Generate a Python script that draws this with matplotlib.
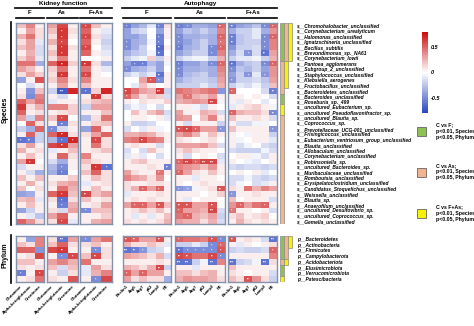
import numpy as np
import matplotlib
matplotlib.use("Agg")
import matplotlib.pyplot as plt
from matplotlib.colors import LinearSegmentedColormap, Normalize
from matplotlib.cm import ScalarMappable
from matplotlib.patches import Rectangle
from matplotlib.lines import Line2D

plt.rcParams['font.family'] = ['Liberation Sans', 'DejaVu Sans']

# ---- labels ----
kidney_cols = ["Glutamine", "Alpha-ketoglutarate", "Creatinine"]
autophagy_cols = ["Beclin1", "Atg5", "Atg7", "p62", "Lamp2", "PE"]
groups = ["F", "As", "F+As"]

species = [
    "s__Chromohalobacter_unclassified", "s__Corynebacterium_urealyticum",
    "s__Halomonas_unclassified", "s__Ignatzschineria_unclassified",
    "s__Bacillus_subtilis", "s__Brevundimonas_sp._NA61",
    "s__Corynebacterium_lowii", "s__Pantoea_agglomerans",
    "s__Subgroup_2_unclassified", "s__Staphylococcus_unclassified",
    "s__Klebsiella_aerogenes", "s__Fructobacillus_unclassified",
    "s__Bacteroidetes_unclassified", "s__Bacteroides_unclassified",
    "s__Roseburia_sp._499", "s__uncultured_Eubacterium_sp.",
    "s__uncultured_Pseudoflavonifractor_sp.", "s__uncultured_Blautia_sp.",
    "s__Coprococcus_sp.", "s__Prevotellaceae_UCG-001_unclassified",
    "s__Frisingicoccus_unclassified", "s__Eubacterium_ventriosum_group_unclassified",
    "s__Blautia_unclassified", "s__Allobaculum_unclassified",
    "s__Corynebacterium_unclassified", "s__Robinsoniella_sp.",
    "s__uncultured_Bacteroides_sp.", "s__Muribaculaceae_unclassified",
    "s__Romboutsia_unclassified", "s__Erysipelatoclostridium_unclassified",
    "s__Candidatus_Stoquefichus_unclassified", "s__Weissella_unclassified",
    "s__Blautia_sp.", "s__Anaerofilum_unclassified",
    "s__uncultured_Desulfovibrio_sp.", "s__uncultured_Coprococcus_sp.",
    "s__Gemella_unclassified",
]
phyla = ["p__Bacteroidetes", "p__Actinobacteria", "p__Firmicutes",
         "p__Campylobacterota", "p__Acidobacteriota", "p__Elusimicrobiota",
         "p__Verrucomicrobiota", "p__Patescibacteria"]

# ---- correlation values (trailing * = significance marks) ----
kid_sp_F = [
    "0.2 0.4 0.05", "0.05 0.3 0.1", "0.25 0.45 0.1", "0.1 0.3 -0.1",
    "0.2 0.3 -0.15", "0.05 0.25 -0.15", "0.15 0.3 -0.1", "0.45 0.45 -0.35",
    "0.3 0.2 0.05", "0.1 0.3 0.15", "-0.4 0.05 0.55", "0.0 -0.15 0.05",
    "0.05 -0.45 0.2", "0.1 -0.5 0.4", "0.5 0.3 0.45", "0.65 0.1 0.25",
    "0.5 0.05 0.1", "0.3 -0.2 0.4", "0.0 0.5 0.1", "-0.2 -0.35 0.5",
    "0.05 0.5 -0.2", "-0.6* -0.55** -0.2", "0.1 0.3 0.05", "0.25 0.05 0.1",
    "0.05 0.2 0.05", "0.3 0.65* 0.0", "-0.15 0.05 0.05", "0.05 -0.15 -0.35",
    "0.2 0.05 0.2", "0.05 0.25 0.05", "0.2 0.0 0.1", "-0.4 -0.35 0.05",
    "0.2 0.25 -0.1", "0.05 0.2 0.05", "-0.4 -0.2 0.05", "0.05 -0.1 -0.25",
    "0.5 0.35 0.1",
]
kid_sp_As = [
    "0.3 0.6 0.05", "0.2 0.65* 0.1", "0.1 0.65* 0.05", "0.25 0.6* 0.0",
    "0.1 0.65* 0.1", "0.2 0.65* 0.05", "0.1 0.4 0.05", "0.5 0.7** 0.15",
    "0.15 0.45 0.05", "0.1 0.65* 0.05", "0.15 0.4 0.1", "0.05 0.3 0.05",
    "-0.2 -0.7*** 0.7", "0.05 -0.15 0.0", "-0.1 0.05 0.05", "0.4 0.4 0.15",
    "0.05 0.1 0.15", "0.2 0.6* 0.0", "0.05 -0.55** 0.1", "-0.5* -0.15 0.05",
    "0.5 0.7** 0.1", "-0.3 -0.6* 0.7*", "0.6 0.65** 0.3", "-0.1 0.05 0.2",
    "0.05 0.5 0.1", "-0.15 -0.35 0.05", "-0.3 -0.5* 0.05", "-0.35 -0.55* 0.0",
    "0.05 0.05 0.15", "0.1 0.25 0.3", "0.05 0.45 0.25", "0.5 0.65* 0.2",
    "0.1 -0.6* 0.1", "0.05 -0.55* 0.25", "0.1 -0.15 0.3", "0.3 0.5 0.05",
    "0.1 0.6* -0.1",
]
kid_sp_FAs = [
    "0.6* 0.2 0.05", "0.5 0.05 -0.1", "0.6* 0.1 -0.15", "0.5 0.05 -0.2",
    "0.6* 0.0 -0.15", "0.5 0.05 -0.1", "0.0 0.0 0.05", "0.65** 0.1 -0.3",
    "0.45 0.05 -0.1", "0.6* 0.05 0.0", "0.4 0.05 0.05", "0.2 0.05 0.05",
    "-0.6* 0.15 0.7", "0.05 0.65* 0.1", "0.1 0.2 0.25", "-0.2 0.3 0.3",
    "0.05 0.05 0.2", "-0.3 0.1 0.45", "0.05 0.15 0.2", "-0.4 0.5 0.05",
    "0.1 0.3 0.5", "0.05 0.6* 0.1", "0.05 0.45 0.1", "0.05 0.1 0.2",
    "0.4 0.05 0.05", "0.2 0.1 0.05", "0.1 0.65* -0.6*", "0.2 0.5 0.1",
    "0.05 0.2 0.1", "-0.1 0.05 0.1", "0.05 0.2 0.05", "0.6** 0.2 0.3",
    "0.2 0.05 0.1", "0.05 0.1 0.3", "-0.5* 0.2 0.2", "0.05 0.05 0.15",
    "0.05 0.25 0.3",
]
aut_sp_F = [
    "-0.55* -0.4 -0.3 -0.1 -0.55* 0.1", "-0.4 -0.2 -0.15 0.0 -0.4 0.05",
    "-0.4 -0.4 -0.3 0.0 -0.55* 0.05", "-0.5* -0.35 -0.3 -0.05 -0.55* 0.0",
    "-0.5* -0.35 -0.2 0.0 -0.65** 0.05", "-0.35 -0.25 -0.2 -0.05 -0.6** 0.0",
    "-0.2 -0.1 -0.05 0.15 -0.2 0.05", "-0.4 -0.55* -0.55* -0.3 -0.4 -0.05",
    "-0.5* -0.35 -0.3 -0.2 -0.4 0.0", "-0.2 -0.1 -0.2 -0.1 -0.6** 0.05",
    "0.0 0.0 0.3 0.55* -0.5* 0.05", "0.0 -0.1 0.2 0.05 0.0 0.05",
    "0.6** 0.45 0.3 0.25 0.65*** -0.2", "0.5* 0.3 0.1 0.2 0.15 -0.15",
    "0.05 0.0 0.1 0.05 0.05 0.15", "-0.15 -0.05 -0.1 0.0 -0.15 0.0",
    "0.0 0.2 0.05 0.2 0.3 -0.15", "0.0 0.05 0.05 0.0 0.05 -0.1",
    "0.05 -0.2 -0.2 -0.15 0.0 0.0", "-0.15 0.0 -0.1 0.05 -0.05 0.0",
    "0.25 0.25 0.3 0.25 0.1 0.05", "0.4 0.45 0.6** 0.45 0.4 0.05",
    "0.05 0.1 0.05 0.05 -0.15 0.0", "-0.15 0.0 -0.15 0.2 0.05 0.0",
    "-0.1 0.05 -0.1 0.0 -0.15 0.0", "0.05 0.15 0.2 0.05 0.05 0.05",
    "0.05 0.05 0.05 0.1 0.05 -0.55**", "0.3 0.1 0.05 0.05 0.45* 0.05",
    "0.4 0.3 0.25 0.1 0.35 0.0", "0.1 0.05 0.05 0.1 0.1 0.05",
    "0.1 0.25 0.5* 0.3 0.5* 0.05", "-0.1 0.05 0.05 0.05 0.1 0.05",
    "0.05 0.1 0.05 0.1 0.05 0.05", "0.3 0.5* 0.5* 0.3 0.55** 0.2",
    "0.05 0.1 0.2 0.1 0.2 0.05", "0.05 -0.1 0.05 -0.1 0.05 0.2",
    "0.1 0.05 0.1 0.05 0.1 0.25",
]
aut_sp_As = [
    "-0.55* -0.5* -0.35 -0.35 -0.4 0.5**", "-0.4 -0.25 -0.3 -0.2 -0.3 0.4",
    "-0.5* -0.35 -0.35 -0.3 -0.35 0.5*", "-0.5* -0.4 -0.3 -0.2 -0.35 0.45*",
    "-0.55* -0.35 -0.3 -0.2 -0.5* 0.5*", "-0.4 -0.3 -0.2 -0.2 -0.5* 0.4",
    "-0.2 -0.1 -0.05 -0.05 -0.2 0.25", "-0.55* -0.4 -0.4 -0.3 -0.5* 0.5*",
    "-0.5* -0.35 -0.35 -0.3 -0.35 0.4", "-0.5* -0.3 -0.25 -0.2 -0.35 0.35",
    "-0.35 -0.25 -0.2 -0.2 -0.25 0.3", "-0.2 -0.2 -0.2 -0.1 -0.2 0.25",
    "0.45 0.4 0.35 0.4 0.45 -0.45", "0.3 0.45* 0.25 0.2 0.3 0.05",
    "0.25 0.3 0.35 0.3 0.6*** -0.05", "0.05 0.05 -0.05 -0.15 0.05 0.0",
    "0.3 0.05 0.05 0.25 0.2 -0.15", "0.35 0.3 0.0 0.2 0.4 0.05",
    "0.05 -0.15 0.05 0.05 0.05 -0.2", "0.55** 0.6** 0.5* 0.3 0.3 -0.45*",
    "0.3 0.4 0.25 0.05 0.2 0.05", "0.1 0.05 0.0 0.05 0.1 0.0",
    "0.3 0.3 0.3 0.35 0.2 -0.15", "0.1 0.2 0.1 0.05 0.05 0.0",
    "0.05 -0.15 0.0 0.05 0.0 -0.15", "0.5* 0.6*** 0.5* 0.6*** 0.6*** -0.1",
    "0.4 0.35 0.3 0.2 0.35 0.05", "0.5* 0.3 0.1 0.05 0.2 0.05",
    "0.05 0.05 -0.1 0.05 0.05 0.0", "0.05 0.0 0.05 0.1 0.05 0.05",
    "-0.45* -0.4* -0.05 0.05 0.1 0.55**", "0.05 0.05 0.05 0.0 0.05 0.15",
    "0.05 -0.1 0.0 0.05 0.05 0.0", "0.55** 0.55** 0.3 0.3 0.55** 0.0",
    "0.5* 0.3 0.3 0.25 0.6*** -0.15", "0.45 0.5* 0.25 0.2 0.3 -0.2",
    "0.3 0.25 0.25 0.1 0.25 -0.15",
]
aut_sp_FAs = [
    "-0.55** -0.4 -0.35 -0.25 -0.5* 0.5*", "-0.35 -0.2 -0.2 -0.1 -0.35 0.35",
    "-0.55** -0.25 -0.2 -0.1 -0.5* 0.5*", "-0.55** -0.25 -0.2 -0.2 -0.5* 0.4",
    "-0.45 -0.2 -0.2 -0.15 -0.5* 0.4", "-0.35 -0.15 -0.45* -0.15 -0.6** 0.3",
    "-0.2 -0.1 -0.1 -0.05 -0.2 0.25", "-0.6** -0.35 -0.25 -0.2 -0.5* 0.5*",
    "-0.5* -0.25 -0.3 -0.2 -0.4 0.35", "-0.4 -0.2 -0.45* -0.1 -0.45* 0.35",
    "-0.45* -0.2 -0.2 -0.15 -0.25 0.3", "-0.2 -0.1 -0.15 -0.05 -0.2 0.2",
    "0.5* 0.0 0.0 0.0 -0.15 -0.55**", "0.05 0.05 0.0 0.05 0.0 -0.15",
    "0.05 -0.1 0.05 0.0 -0.1 0.0", "-0.1 0.05 0.1 0.15 0.05 -0.05",
    "0.5* 0.25 0.2 0.2 0.1 -0.5**", "0.2 0.05 0.05 0.1 0.05 -0.15",
    "0.05 -0.15 -0.15 -0.05 -0.05 0.0", "0.2 0.05 0.05 0.05 0.05 -0.45*",
    "0.05 0.0 -0.05 0.05 0.05 -0.2", "0.05 -0.05 0.0 0.05 0.05 -0.1",
    "0.05 -0.15 -0.05 0.0 -0.15 -0.2", "-0.15 -0.2 -0.2 -0.2 -0.05 -0.15",
    "0.0 0.05 0.05 -0.05 -0.15 0.05", "0.05 0.0 -0.05 -0.1 0.0 0.05",
    "-0.15 -0.2 -0.15 -0.15 -0.2 -0.15", "0.0 0.05 0.0 0.05 -0.1 0.0",
    "-0.15 -0.15 -0.05 -0.15 -0.2 -0.15", "-0.15 -0.05 0.0 -0.15 -0.1 0.05",
    "0.1 0.05 0.45 0.25 0.4 0.3", "-0.45* 0.05 0.05 0.1 0.05 0.05",
    "0.2 0.0 0.05 0.05 0.05 -0.15", "0.35 0.5* 0.3 0.45 0.5* 0.05",
    "0.45* 0.05 0.05 0.0 0.05 -0.15", "0.1 0.2 0.05 0.1 0.15 0.0",
    "0.05 0.25 0.1 0.05 0.1 0.05",
]

kid_ph_F = ["0.05 -0.4 0.4", "0.2 0.1 0.4", "0.5 0.5 -0.45", "0.05 0.1 0.6",
            "0.2 0.2 0.05", "0.1 0.05 0.1", "-0.55* 0.05 0.6*", "0.05 0.1 0.45"]
kid_ph_As = ["0.1 -0.6*** 0.3", "0.2 0.5 0.1", "0.6 0.65** 0.05", "0.05 -0.5* 0.6*",
             "0.3 0.4 0.25", "0.2 -0.15 0.2", "0.05 -0.2 0.1", "0.1 0.05 0.55"]
kid_ph_FAs = ["-0.5* 0.3 0.45", "0.1 0.2 0.05", "0.05 -0.5* 0.1", "0.2 0.6** 0.1",
              "0.45 0.05 0.05", "-0.1 0.3 0.1", "-0.1 0.25 0.4", "0.05 -0.5* 0.6"]
aut_ph_F = [
    "0.55** 0.5** 0.3 0.3 0.55** 0.05", "0.25 0.1 0.1 0.2 0.1 -0.1",
    "-0.6*** -0.55** -0.45* -0.2 -0.15 0.0", "0.3 0.25 0.2 0.1 0.25 -0.15",
    "0.05 0.05 0.05 0.05 0.1 0.05", "0.25 0.2 0.1 0.25 0.6** -0.2",
    "0.5* 0.3 0.5* 0.3 0.3 0.05", "0.3 0.1 0.2 0.1 0.1 -0.35",
]
aut_ph_As = [
    "0.5* 0.45 0.45 0.4 0.55** -0.5*", "-0.2 -0.2 -0.1 -0.2 -0.5* 0.5*",
    "-0.6** -0.5* -0.5* -0.5* -0.5* 0.55*", "0.6** 0.55** 0.45 0.45 0.6** -0.5*",
    "-0.6*** -0.6*** -0.2 -0.05 -0.6*** 0.4", "0.05 0.05 -0.1 0.05 0.05 0.05",
    "0.2 0.2 0.1 0.2 0.25 0.05", "0.25 0.35 0.3 0.3 0.25 0.1",
]
aut_ph_FAs = [
    "0.55** 0.05 0.1 0.05 -0.15 -0.6***", "0.05 -0.1 0.05 0.0 0.05 0.1",
    "-0.2 -0.15 -0.2 -0.2 -0.15 0.5*", "0.05 0.05 0.05 0.05 0.05 0.4",
    "-0.6*** -0.2 -0.15 -0.05 -0.6*** 0.1", "0.2 0.05 0.05 0.05 0.05 0.05",
    "0.1 0.05 0.0 0.05 0.05 -0.15", "0.2 0.1 0.55** 0.35 0.1 -0.2",
]

# significant comparisons per row: F = C vs F, A = C vs As, X = C vs F+As
sig_species = ["FAX"] * 7 + ["AX"] * 5 + ["A"] + ["F"] * 2 + ["X"] * 2 + ["A"] * 20
sig_phyla = ["FAX", "FAX", "FA", "FA", "AX", "F", "F", "X"]
sig_colors = {"F": "#8dc153", "A": "#f2b48c", "X": "#f6f200"}
legend_items = [("F", "C vs F;"), ("A", "C vs As;"), ("X", "C vs F+As;")]

# ---- layout ----
W, H = 474, 326
fig = plt.figure(figsize=(W / 100, H / 100), dpi=100)
cmap = LinearSegmentedColormap.from_list("bwr2", ["#2a45c2", "#ffffff", "#cc0a0a"])
norm = Normalize(-0.8, 0.8)
frame = "#8391ab"


def px_axes(x0, y0, x1, y1):
    return fig.add_axes([x0 / W, 1 - y1 / H, (x1 - x0) / W, (y1 - y0) / H])


def parse(rows):
    toks = [r.split() for r in rows]
    vals = np.array([[float(t.rstrip("*")) for t in r] for r in toks])
    stars = [[t[len(t.rstrip("*")):] for t in r] for r in toks]
    return vals, stars


def draw_panel(rows, box, xlabels=None):
    vals, stars = parse(rows)
    ax = px_axes(*box)
    ax.imshow(vals, cmap=cmap, norm=norm, aspect="auto", interpolation="nearest")
    for i, srow in enumerate(stars):
        for j, s in enumerate(srow):
            if s:
                ax.text(j, i + 0.12, s, color="white", fontsize=2.6,
                        ha="center", va="center", fontweight="bold")
    ax.set_yticks([])
    if xlabels:
        ax.set_xticks(range(len(xlabels)), xlabels, rotation=45, ha="right",
                      rotation_mode="anchor", fontsize=3.1, fontweight="bold")
        ax.tick_params(axis="x", length=0, pad=1.5)
    else:
        ax.set_xticks([])
    for sp in ax.spines.values():
        sp.set_edgecolor(frame)
        sp.set_linewidth(1.0)
    return ax


def draw_sig(sig, labels, box):
    ax = px_axes(*box)
    n = len(sig)
    for k in range(3):
        codes = [s[k] if len(s) > k else None for s in sig]
        start = 0
        for i in range(1, n + 1):
            if i == n or codes[i] != codes[start]:
                if codes[start]:
                    ax.add_patch(Rectangle((k, start), 1, i - start,
                                           facecolor=sig_colors[codes[start]],
                                           edgecolor="#8c8c8c", lw=0.5))
                start = i
    ax.set_xlim(0, 3.3)
    ax.set_ylim(n, 0)
    ax.set_xticks([])
    ax.yaxis.tick_right()
    ax.set_yticks(np.arange(n) + 0.5, labels, fontsize=3.5,
                  fontstyle="italic", fontweight="bold")
    ax.tick_params(axis="y", length=0, pad=3)
    for sp in ax.spines.values():
        sp.set_visible(False)


kid_x = [(15.5, 44), (46.5, 77.5), (80, 111.5)]
aut_x = [(122.5, 171), (175, 224.5), (228, 277)]
sp_y = (23, 224)
ph_y = (236, 282)

for (x0, x1), rows in zip(kid_x, [kid_sp_F, kid_sp_As, kid_sp_FAs]):
    draw_panel(rows, (x0, sp_y[0], x1, sp_y[1]))
for (x0, x1), rows in zip(aut_x, [aut_sp_F, aut_sp_As, aut_sp_FAs]):
    draw_panel(rows, (x0, sp_y[0], x1, sp_y[1]))
for (x0, x1), rows in zip(kid_x, [kid_ph_F, kid_ph_As, kid_ph_FAs]):
    draw_panel(rows, (x0, ph_y[0], x1, ph_y[1]), kidney_cols)
for (x0, x1), rows in zip(aut_x, [aut_ph_F, aut_ph_As, aut_ph_FAs]):
    draw_panel(rows, (x0, ph_y[0], x1, ph_y[1]), autophagy_cols)

draw_sig(sig_species, species, (279.5, sp_y[0], 293, sp_y[1]))
draw_sig(sig_phyla, phyla, (279.5, ph_y[0], 293, ph_y[1]))


def hline(x0, x1, y, lw=1.2):
    fig.add_artist(Line2D([x0 / W, x1 / W], [1 - y / H] * 2, color="black", lw=lw))


def vline(x, y0, y1, lw=1.2):
    fig.add_artist(Line2D([x / W] * 2, [1 - y0 / H, 1 - y1 / H], color="black", lw=lw))


# group headers
fig.text(63 / W, 1 - 3.6 / H, "Kidney function", ha="center", va="center",
         fontsize=4.6, fontweight="bold")
fig.text(200 / W, 1 - 3.6 / H, "Autophagy", ha="center", va="center",
         fontsize=4.6, fontweight="bold")
hline(15, 112, 8)
hline(122, 277, 8)
for (x0, x1), g in zip(kid_x + aut_x, groups * 2):
    fig.text((x0 + x1) / 2 / W, 1 - 12.8 / H, g, ha="center", va="center",
             fontsize=4.3, fontweight="bold")
    hline(x0, x1, 17.5)

# row group labels
fig.text(5 / W, 1 - 110 / H, "Species", rotation=90, ha="center", va="center",
         fontsize=5, fontweight="bold")
fig.text(5 / W, 1 - 255 / H, "Phylum", rotation=90, ha="center", va="center",
         fontsize=5, fontweight="bold")
vline(11, 22, 225)
vline(11, 235, 283)

# colour bar
cax = px_axes(422, 32, 428, 113)
cb = fig.colorbar(ScalarMappable(norm=norm, cmap=cmap), cax=cax, ticks=[-0.5, 0, 0.5])
cb.outline.set_visible(False)
cb.ax.set_yticklabels(["-0.5", "0", "0.5"], fontsize=4, fontstyle="italic",
                      fontweight="bold")
cb.ax.tick_params(length=0, pad=2)

# significance legend
for k, (code, title) in enumerate(legend_items):
    y0 = 127 + k * 41
    fig.add_artist(Rectangle((417 / W, 1 - (y0 + 9) / H), 9 / W, 9 / H,
                             transform=fig.transFigure, facecolor=sig_colors[code],
                             edgecolor="#666666", lw=0.6))
    fig.text(436 / W, 1 - (y0 - 2) / H, title, fontsize=3.7, fontweight="bold",
             va="center")
    fig.text(436 / W, 1 - (y0 + 4) / H, "p<0.01, Species", fontsize=3.7,
             fontweight="bold", va="center")
    fig.text(436 / W, 1 - (y0 + 10) / H, "p<0.05, Phylum", fontsize=3.7,
             fontweight="bold", va="center")

fig.savefig("out.png", dpi=100)
